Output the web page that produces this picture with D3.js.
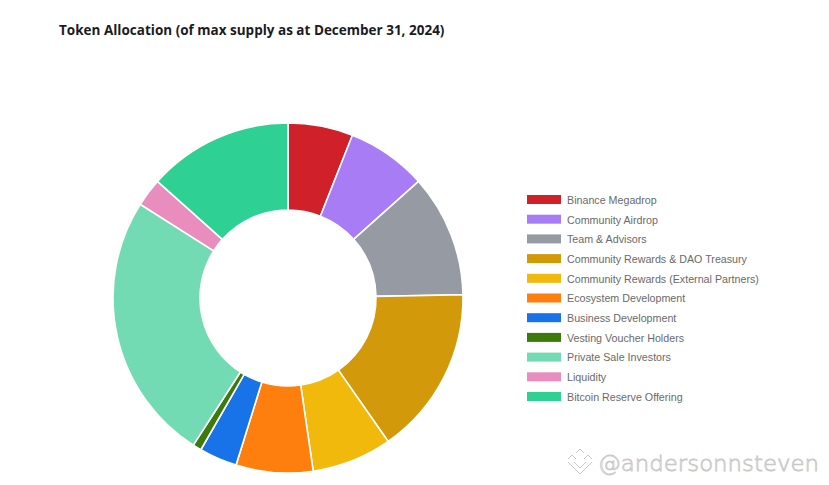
<!DOCTYPE html>
<html><head><meta charset="utf-8">
<script src="https://cdn.jsdelivr.net/npm/d3@7"></script>
<style>
html,body{margin:0;padding:0;background:#fff;}
svg{display:block;}
</style></head>
<body>
<svg id="chart" width="829" height="485"></svg>
<script>
const categories = ["Binance Megadrop","Community Airdrop","Team & Advisors","Community Rewards & DAO Treasury","Community Rewards (External Partners)","Ecosystem Development","Business Development","Vesting Voucher Holders","Private Sale Investors","Liquidity","Bitcoin Reserve Offering"];
const values = [6.0, 7.4, 11.3, 15.6, 7.4, 7.1, 3.5, 0.8, 24.9, 2.6, 13.4];
const colors = ["#d0202a","#a87cf5","#959aa3","#d2990b","#f0b90b","#fe7f0d","#1873e8","#3c7a0b","#72dbb3","#e88dbd","#2fd093"];
const title = "Token Allocation (of max supply as at December 31, 2024)";

const svg = d3.select("#chart");
const data = categories.map((c,i)=>({name:c, value:values[i], color:colors[i]}));

svg.append("text").attr("x",59).attr("y",35)
  .attr("font-family","'Open Sans', sans-serif").attr("font-weight",700)
  .attr("font-size",13.5).attr("fill","#1b1b1f").text(title);

const cx=288, cy=298, R=175, r=88;
const pie = d3.pie().value(d=>d.value).sort(null);
const arc = d3.arc().outerRadius(R).innerRadius(r);
const g = svg.append("g").attr("transform",`translate(${cx},${cy})`);
g.selectAll("path").data(pie(data)).join("path")
  .attr("d",arc).attr("fill",d=>d.data.color)
  .attr("stroke","#fff").attr("stroke-width",1.6).attr("stroke-linejoin","round");

const y = d3.scalePoint().domain(categories).range([200,397]);
const lg = svg.append("g");
const rows = lg.selectAll("g").data(data).join("g")
  .attr("transform",d=>`translate(527,${y(d.name)})`);
rows.append("rect").attr("x",0).attr("y",-5).attr("width",34).attr("height",9)
  .attr("fill",d=>d.color);
rows.append("text").attr("x",40).attr("y",0).attr("dy","0.36em")
  .attr("font-family","'Liberation Sans', Arial, sans-serif").attr("font-size",10.7)
  .attr("fill","#6a6a6a").text(d=>d.name);

// watermark
const wm = svg.append("g");
wm.append("text").attr("x",598).attr("y",471)
  .attr("font-family","'DejaVu Sans', sans-serif").attr("font-size",22).attr("font-weight",300)
  .attr("fill","#fff").attr("stroke","#c8c8c8").attr("stroke-width",0.8)
  .attr("textLength",221).attr("lengthAdjust","spacingAndGlyphs")
  .text("@andersonnsteven");
const ic = wm.append("g").attr("transform","translate(580,462)").attr("fill","none")
  .attr("stroke","#c8c8c8").attr("stroke-width",1);
ic.append("path").attr("d","M-12,-3 L-8,-7 L-4,-3 M4,-3 L8,-7 L12,-3 M-4,-9 L0,-13 L4,-9 M-12,0 L0,12 L12,0 M-6,0 L0,6 L6,0");
</script>
</body></html>
